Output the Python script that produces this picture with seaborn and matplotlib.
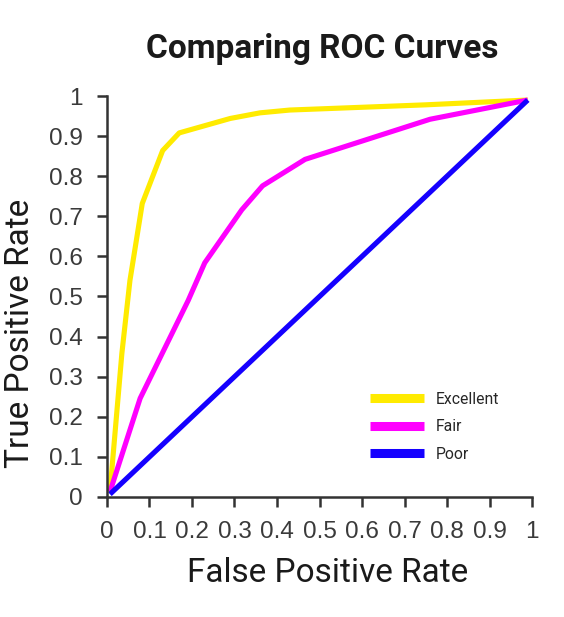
import numpy as np
import pandas as pd
import seaborn as sns
import matplotlib.pyplot as plt
from matplotlib.lines import Line2D

# ---- data ----
excellent_fpr = [0.007, 0.035, 0.054, 0.083, 0.131, 0.170, 0.29, 0.36, 0.43, 0.75, 0.99]
excellent_tpr = [0.013, 0.358, 0.54, 0.732, 0.864, 0.908, 0.944, 0.958, 0.965, 0.978, 0.99]

fair_fpr = [0.007, 0.078, 0.191, 0.23, 0.317, 0.366, 0.466, 0.76, 0.99]
fair_tpr = [0.013, 0.246, 0.49, 0.584, 0.716, 0.776, 0.842, 0.942, 0.99]

poor_fpr = [0.007, 0.99]
poor_tpr = [0.007, 0.99]

series = ["Excellent", "Fair", "Poor"]
colors = {"Excellent": "#ffeb00", "Fair": "#ff00ff", "Poor": "#1500ff"}
ticks = [0, 0.1, 0.2, 0.3, 0.4, 0.5, 0.6, 0.7, 0.8, 0.9, 1]
tick_labels = ["0", "0.1", "0.2", "0.3", "0.4", "0.5", "0.6", "0.7", "0.8", "0.9", "1"]

df = pd.concat([
    pd.DataFrame({"fpr": excellent_fpr, "tpr": excellent_tpr, "curve": "Excellent"}),
    pd.DataFrame({"fpr": fair_fpr, "tpr": fair_tpr, "curve": "Fair"}),
    pd.DataFrame({"fpr": poor_fpr, "tpr": poor_tpr, "curve": "Poor"}),
])

sns.set_style("white")
plt.rcParams["font.family"] = ["Roboto", "DejaVu Sans"]

fig = plt.figure(figsize=(5.64, 6.17), dpi=100)
ax = fig.add_axes([0.1897, 0.1945, 0.7536, 0.6499])

sns.lineplot(data=df, x="fpr", y="tpr", hue="curve", hue_order=series,
             palette=colors, linewidth=3.7, legend=False, ax=ax,
             solid_capstyle="butt")

ax.set_xlim(0, 1)
ax.set_ylim(0, 1)
ax.set_xticks(ticks)
ax.set_xticklabels(tick_labels)
ax.set_yticks(ticks)
ax.set_yticklabels(tick_labels)
for lab in ax.get_xticklabels() + ax.get_yticklabels():
    lab.set_family("Liberation Sans")
    lab.set_fontsize(17.5)
    lab.set_color("#3a3a3a")
ax.tick_params(axis="both", direction="out", length=7.2, width=1.8, color="#333333", pad=10,
               bottom=True, left=True)

sns.despine(ax=ax)
for side in ["left", "bottom"]:
    ax.spines[side].set_linewidth(1.8)
    ax.spines[side].set_color("#333333")

ax.set_xlabel("False Positive Rate", fontsize=24, color="#1a1a1a")
ax.set_ylabel("True Positive Rate", fontsize=24, color="#1a1a1a")
ax.xaxis.set_label_coords(0.518, -0.15)
ax.yaxis.set_label_coords(-0.168, 0.409)
fig.text(0.571, 0.921, "Comparing ROC Curves", ha="center", va="center",
         fontsize=24, fontweight="bold", color="#1a1a1a")

handles = [Line2D([0], [0], color=colors[s], linewidth=6.5, solid_capstyle="butt") for s in series]
ax.legend(handles, series, loc="upper left", bbox_to_anchor=(0.605, 0.278),
          frameon=False, fontsize=11.3, handlelength=3.4, handletextpad=0.75,
          labelspacing=0.8, borderaxespad=0)

fig.savefig("out.png", dpi=100)
